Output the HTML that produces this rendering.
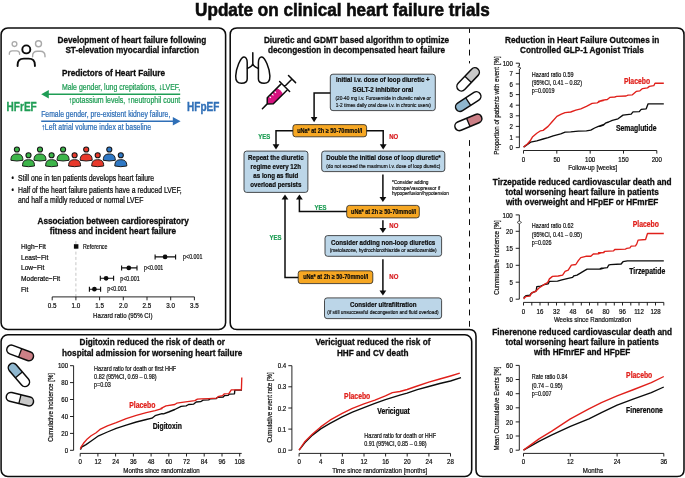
<!DOCTYPE html>
<html lang="en"><head><meta charset="utf-8"><title>Update on clinical heart failure trials</title>
<style>html,body{margin:0;padding:0;background:#fff}svg{display:block}text{font-family:"Liberation Sans", sans-serif}</style></head><body>
<svg width="685" height="478" viewBox="0 0 685 478" fill="#0c0c0c">
<rect width="685" height="478" fill="#fff"/>
<rect x="1.1" y="27.9" width="224.5" height="301.6" rx="6.8" fill="#fff" stroke="#0c0c0c" stroke-width="1.55"/>
<rect x="1.1" y="334.7" width="470.6" height="141.8" rx="6.8" fill="#fff" stroke="#0c0c0c" stroke-width="1.55"/>
<path d="M237.0 27.9 H677.2 Q684.0 27.9 684.0 34.7 V469.7 Q684.0 476.5 677.2 476.5 H482.8 Q476.0 476.5 476.0 469.7 V336.3 Q476.0 329.5 469.2 329.5 H237.0 Q230.2 329.5 230.2 322.7 V34.7 Q230.2 27.9 237.0 27.9 Z" fill="#fff" stroke="#0c0c0c" stroke-width="1.55"/>
<path d="M469.5 28.6 V32.9 M469.5 38.4 V44.2 M469.5 49.7 V55.5 M469.5 61.0 V63.4 M469.5 140.1 V145.9 M469.5 151.4 V157.2 M469.5 162.7 V168.5 M469.5 174.0 V179.8 M469.5 185.3 V191.1 M469.5 196.6 V202.4 M469.5 207.9 V213.7 M469.5 219.2 V225.0 M469.5 230.5 V236.3 M469.5 241.8 V247.6 M469.5 253.1 V258.9 M469.5 264.4 V270.2 M469.5 275.7 V281.5 M469.5 287.0 V292.8 M469.5 298.3 V304.1 M469.5 309.6 V315.4 M469.5 320.9 V326.7" fill="none" stroke="#0c0c0c" stroke-width="1"/>
<text x="195.10" y="15.80" font-size="18.64" font-weight="700" stroke="#0c0c0c" stroke-width="0.60" textLength="294.60" lengthAdjust="spacingAndGlyphs">Update on clinical heart failure trials</text>
<circle cx="14.5" cy="44.1" r="2.4" fill="none" stroke="#a9a9a9" stroke-width="1.3"/>
<path d="M9.3 54.3 V53.8 Q9.3 50.9 12.2 50.9 H16.7 Q19.6 50.9 19.6 53.8 V54.3" fill="none" stroke="#a9a9a9" stroke-width="1.3" stroke-linecap="round"/>
<circle cx="38.5" cy="43.8" r="3.0" fill="none" stroke="#a9a9a9" stroke-width="1.4"/>
<path d="M32.6 56.8 V56.0 Q32.6 51.2 37.4 51.2 H40.2 Q45.0 51.2 45.0 56.0 V56.8" fill="none" stroke="#a9a9a9" stroke-width="1.4" stroke-linecap="round"/>
<circle cx="26.3" cy="49.4" r="4.0" fill="none" stroke="#0c0c0c" stroke-width="1.9"/>
<path d="M17.6 66.0 V64.9 Q17.6 58.6 23.9 58.6 H28.6 Q34.9 58.6 34.9 64.9 V66.0" fill="none" stroke="#0c0c0c" stroke-width="1.9" stroke-linecap="round"/>
<text x="57.50" y="42.90" font-size="8.46" font-weight="700" stroke="#0c0c0c" stroke-width="0.29" textLength="148.80" lengthAdjust="spacingAndGlyphs">Development of heart failure following</text>
<text x="65.40" y="52.80" font-size="8.46" font-weight="700" stroke="#0c0c0c" stroke-width="0.29" textLength="133.60" lengthAdjust="spacingAndGlyphs">ST-elevation myocardial infarction</text>
<text x="62.00" y="76.40" font-size="8.46" font-weight="700" stroke="#0c0c0c" stroke-width="0.29" textLength="103.11" lengthAdjust="spacingAndGlyphs">Predictors of Heart Failure</text>
<text x="61.90" y="89.70" font-size="8.27" fill="#1f9d55" stroke="#1f9d55" stroke-width="0.24" textLength="118.40" lengthAdjust="spacingAndGlyphs">Male gender, lung crepitations, <tspan font-weight="700">↓</tspan>LVEF,</text>
<text x="68.40" y="102.80" font-size="8.27" fill="#1f9d55" stroke="#1f9d55" stroke-width="0.24" textLength="111.90" lengthAdjust="spacingAndGlyphs"><tspan font-weight="700">↑</tspan>potassium levels, <tspan font-weight="700">↑</tspan>neutrophil count</text>
<line x1="46" y1="94.2" x2="180.2" y2="94.2" stroke="#1f9d55" stroke-width="1.6"/>
<path d="M41.2 94.2 L48.8 90 L48.8 98.4 Z" fill="#1f9d55"/>
<text x="6.60" y="110.80" font-size="12.66" font-weight="700" fill="#1f9d55" stroke="#1f9d55" stroke-width="0.35" textLength="30.15" lengthAdjust="spacingAndGlyphs">HFrEF</text>
<text x="187.00" y="110.80" font-size="12.66" font-weight="700" fill="#2f6fb7" stroke="#2f6fb7" stroke-width="0.35" textLength="32.38" lengthAdjust="spacingAndGlyphs">HFpEF</text>
<text x="41.20" y="117.10" font-size="8.27" fill="#2f6fb7" stroke="#2f6fb7" stroke-width="0.24" textLength="129.10" lengthAdjust="spacingAndGlyphs">Female gender, pre-existent kidney failure,</text>
<line x1="41.2" y1="121.2" x2="175" y2="121.2" stroke="#2f6fb7" stroke-width="1.6"/>
<path d="M180.6 121.2 L172.8 117 L172.8 125.4 Z" fill="#2f6fb7"/>
<text x="41.40" y="129.70" font-size="8.27" fill="#2f6fb7" stroke="#2f6fb7" stroke-width="0.24" textLength="109.80" lengthAdjust="spacingAndGlyphs"><tspan font-weight="700">↑</tspan>Left atrial volume index at baseline</text>
<path d="M10.9 160.3 C10.9 155.2 13.3 154.0 16.9 154.0 C20.6 154.0 22.9 155.2 22.9 160.3 Q16.9 161.7 10.9 160.3 Z" fill="#3db54a" stroke="#151515" stroke-width="0.95" stroke-linejoin="round"/>
<circle cx="16.9" cy="149.5" r="2.55" fill="#3db54a" stroke="#151515" stroke-width="1.05"/>
<path d="M34.0 160.3 C34.0 155.2 36.4 154.0 40.0 154.0 C43.6 154.0 46.0 155.2 46.0 160.3 Q40.0 161.7 34.0 160.3 Z" fill="#3db54a" stroke="#151515" stroke-width="0.95" stroke-linejoin="round"/>
<circle cx="40.0" cy="149.5" r="2.55" fill="#3db54a" stroke="#151515" stroke-width="1.05"/>
<path d="M57.1 160.3 C57.1 155.2 59.5 154.0 63.1 154.0 C66.7 154.0 69.1 155.2 69.1 160.3 Q63.1 161.7 57.1 160.3 Z" fill="#3db54a" stroke="#151515" stroke-width="0.95" stroke-linejoin="round"/>
<circle cx="63.1" cy="149.5" r="2.55" fill="#3db54a" stroke="#151515" stroke-width="1.05"/>
<path d="M80.2 160.3 C80.2 155.2 82.6 154.0 86.2 154.0 C89.8 154.0 92.2 155.2 92.2 160.3 Q86.2 161.7 80.2 160.3 Z" fill="#e8392b" stroke="#151515" stroke-width="0.95" stroke-linejoin="round"/>
<circle cx="86.2" cy="149.5" r="2.55" fill="#e8392b" stroke="#151515" stroke-width="1.05"/>
<path d="M103.3 160.3 C103.3 155.2 105.7 154.0 109.3 154.0 C112.9 154.0 115.3 155.2 115.3 160.3 Q109.3 161.7 103.3 160.3 Z" fill="#2f78c4" stroke="#151515" stroke-width="0.95" stroke-linejoin="round"/>
<circle cx="109.3" cy="149.5" r="2.55" fill="#2f78c4" stroke="#151515" stroke-width="1.05"/>
<path d="M22.5 166.0 C22.5 160.9 24.9 159.7 28.5 159.7 C32.1 159.7 34.5 160.9 34.5 166.0 Q28.5 167.4 22.5 166.0 Z" fill="#3db54a" stroke="#151515" stroke-width="0.95" stroke-linejoin="round"/>
<circle cx="28.5" cy="155.2" r="2.55" fill="#3db54a" stroke="#151515" stroke-width="1.05"/>
<path d="M45.6 166.0 C45.6 160.9 48.0 159.7 51.6 159.7 C55.2 159.7 57.6 160.9 57.6 166.0 Q51.6 167.4 45.6 166.0 Z" fill="#3db54a" stroke="#151515" stroke-width="0.95" stroke-linejoin="round"/>
<circle cx="51.6" cy="155.2" r="2.55" fill="#3db54a" stroke="#151515" stroke-width="1.05"/>
<path d="M68.6 166.0 C68.6 160.9 71.0 159.7 74.6 159.7 C78.2 159.7 80.6 160.9 80.6 166.0 Q74.6 167.4 68.6 166.0 Z" fill="#e8392b" stroke="#151515" stroke-width="0.95" stroke-linejoin="round"/>
<circle cx="74.6" cy="155.2" r="2.55" fill="#e8392b" stroke="#151515" stroke-width="1.05"/>
<path d="M91.7 166.0 C91.7 160.9 94.1 159.7 97.7 159.7 C101.3 159.7 103.7 160.9 103.7 166.0 Q97.7 167.4 91.7 166.0 Z" fill="#e8392b" stroke="#151515" stroke-width="0.95" stroke-linejoin="round"/>
<circle cx="97.7" cy="155.2" r="2.55" fill="#e8392b" stroke="#151515" stroke-width="1.05"/>
<path d="M114.8 166.0 C114.8 160.9 117.2 159.7 120.8 159.7 C124.4 159.7 126.8 160.9 126.8 166.0 Q120.8 167.4 114.8 166.0 Z" fill="#2f78c4" stroke="#151515" stroke-width="0.95" stroke-linejoin="round"/>
<circle cx="120.8" cy="155.2" r="2.55" fill="#2f78c4" stroke="#151515" stroke-width="1.05"/>
<text x="11.40" y="181.40" font-size="8.21" stroke="#0c0c0c" stroke-width="0.24" textLength="2.39" lengthAdjust="spacingAndGlyphs">•</text>
<text x="18.00" y="181.40" font-size="8.21" stroke="#0c0c0c" stroke-width="0.24" textLength="136.13" lengthAdjust="spacingAndGlyphs">Still one in ten patients develops heart failure</text>
<text x="11.40" y="193.30" font-size="8.21" stroke="#0c0c0c" stroke-width="0.24" textLength="2.39" lengthAdjust="spacingAndGlyphs">•</text>
<text x="18.00" y="193.30" font-size="8.21" stroke="#0c0c0c" stroke-width="0.24" textLength="163.76" lengthAdjust="spacingAndGlyphs">Half of the heart failure patients have a reduced LVEF,</text>
<text x="18.00" y="203.20" font-size="8.21" stroke="#0c0c0c" stroke-width="0.24" textLength="125.34" lengthAdjust="spacingAndGlyphs">and half a mildly reduced or normal LVEF</text>
<text x="37.55" y="224.20" font-size="8.45" font-weight="700" stroke="#0c0c0c" stroke-width="0.29" textLength="151.29" lengthAdjust="spacingAndGlyphs">Association between cardiorespiratory</text>
<text x="49.79" y="234.30" font-size="8.45" font-weight="700" stroke="#0c0c0c" stroke-width="0.29" textLength="126.22" lengthAdjust="spacingAndGlyphs">fitness and incident heart failure</text>
<text x="21.00" y="248.90" font-size="7.91" stroke="#0c0c0c" stroke-width="0.23" textLength="24.72" lengthAdjust="spacingAndGlyphs">High−Fit</text>
<text x="21.00" y="259.60" font-size="7.91" stroke="#0c0c0c" stroke-width="0.23" textLength="27.29" lengthAdjust="spacingAndGlyphs">Least−Fit</text>
<text x="21.00" y="270.40" font-size="7.91" stroke="#0c0c0c" stroke-width="0.23" textLength="23.26" lengthAdjust="spacingAndGlyphs">Low−Fit</text>
<text x="21.00" y="281.30" font-size="7.91" stroke="#0c0c0c" stroke-width="0.23" textLength="39.01" lengthAdjust="spacingAndGlyphs">Moderate−Fit</text>
<text x="21.00" y="291.80" font-size="7.91" stroke="#0c0c0c" stroke-width="0.23" textLength="7.32" lengthAdjust="spacingAndGlyphs">Fit</text>
<line x1="75.9" y1="241" x2="75.9" y2="296.5" stroke="#c6c6c6" stroke-width="1" stroke-dasharray="3 2.3"/>
<rect x="73.9" y="244.2" width="4.5" height="4.5" fill="#0c0c0c"/>
<text x="83.00" y="249.00" font-size="6.36" stroke="#0c0c0c" stroke-width="0.19" textLength="24.45" lengthAdjust="spacingAndGlyphs">Reference</text>
<path d="M155.1 256.9 H175.6 M155.1 254.4 V259.4 M175.6 254.4 V259.4" fill="none" stroke="#0c0c0c" stroke-width="1.1"/>
<circle cx="165.1" cy="256.9" r="2.35" fill="#0c0c0c"/>
<text x="183.10" y="259.10" font-size="6.36" stroke="#0c0c0c" stroke-width="0.19" textLength="19.31" lengthAdjust="spacingAndGlyphs">p&lt;0.001</text>
<path d="M121.6 267.9 H137.0 M121.6 265.4 V270.4 M137.0 265.4 V270.4" fill="none" stroke="#0c0c0c" stroke-width="1.1"/>
<circle cx="128.8" cy="267.9" r="2.35" fill="#0c0c0c"/>
<text x="144.00" y="270.10" font-size="6.36" stroke="#0c0c0c" stroke-width="0.19" textLength="19.31" lengthAdjust="spacingAndGlyphs">p&lt;0.001</text>
<path d="M100.3 278.3 H113.6 M100.3 275.8 V280.8 M113.6 275.8 V280.8" fill="none" stroke="#0c0c0c" stroke-width="1.1"/>
<circle cx="106.1" cy="278.3" r="2.35" fill="#0c0c0c"/>
<text x="120.30" y="280.50" font-size="6.36" stroke="#0c0c0c" stroke-width="0.19" textLength="19.31" lengthAdjust="spacingAndGlyphs">p&lt;0.001</text>
<path d="M89.4 289.2 H100.6 M89.4 286.7 V291.7 M100.6 286.7 V291.7" fill="none" stroke="#0c0c0c" stroke-width="1.1"/>
<circle cx="94.4" cy="289.2" r="2.35" fill="#0c0c0c"/>
<text x="107.30" y="291.40" font-size="6.36" stroke="#0c0c0c" stroke-width="0.19" textLength="19.31" lengthAdjust="spacingAndGlyphs">p&lt;0.001</text>
<path d="M52.2 296.9 H194.4 M52.2 296.9 V300.3 M75.9 296.9 V300.3 M99.6 296.9 V300.3 M123.3 296.9 V300.3 M147.0 296.9 V300.3 M170.7 296.9 V300.3 M194.4 296.9 V300.3" fill="none" stroke="#0c0c0c" stroke-width="0.9"/>
<text x="47.82" y="308.10" font-size="7.56" stroke="#0c0c0c" stroke-width="0.22" textLength="8.76" lengthAdjust="spacingAndGlyphs">0.5</text>
<text x="71.52" y="308.10" font-size="7.56" stroke="#0c0c0c" stroke-width="0.22" textLength="8.76" lengthAdjust="spacingAndGlyphs">1.0</text>
<text x="95.22" y="308.10" font-size="7.56" stroke="#0c0c0c" stroke-width="0.22" textLength="8.76" lengthAdjust="spacingAndGlyphs">1.5</text>
<text x="118.92" y="308.10" font-size="7.56" stroke="#0c0c0c" stroke-width="0.22" textLength="8.76" lengthAdjust="spacingAndGlyphs">2.0</text>
<text x="142.62" y="308.10" font-size="7.56" stroke="#0c0c0c" stroke-width="0.22" textLength="8.76" lengthAdjust="spacingAndGlyphs">2.5</text>
<text x="166.32" y="308.10" font-size="7.56" stroke="#0c0c0c" stroke-width="0.22" textLength="8.76" lengthAdjust="spacingAndGlyphs">3.0</text>
<text x="190.02" y="308.10" font-size="7.56" stroke="#0c0c0c" stroke-width="0.22" textLength="8.76" lengthAdjust="spacingAndGlyphs">3.5</text>
<text x="93.11" y="318.10" font-size="7.37" stroke="#0c0c0c" stroke-width="0.21" textLength="59.37" lengthAdjust="spacingAndGlyphs">Hazard ratio (95% CI)</text>
<text x="263.90" y="42.90" font-size="8.46" font-weight="700" stroke="#0c0c0c" stroke-width="0.29" textLength="185.20" lengthAdjust="spacingAndGlyphs">Diuretic and GDMT based algorithm to optimize</text>
<text x="267.99" y="52.90" font-size="8.46" font-weight="700" stroke="#0c0c0c" stroke-width="0.29" textLength="177.01" lengthAdjust="spacingAndGlyphs">decongestion in decompensated heart failure</text>
<path d="M243.8 57.0 C240.5 57.5 236.0 68 235.7 76 C235.5 81.5 238 83.2 241.5 83.2 C245 83.2 247.2 82.2 247.2 79 V62.5 C247.2 59 245.8 56.8 243.8 57.0 Z" fill="none" stroke="#0c0c0c" stroke-width="1.5"/>
<path d="M261.8 57.0 C265.1 57.5 269.6 68 269.9 76 C270.1 81.5 267.6 83.2 264.1 83.2 C260.6 83.2 258.4 82.2 258.4 79 V62.5 C258.4 59 259.8 56.8 261.8 57.0 Z" fill="none" stroke="#0c0c0c" stroke-width="1.5"/>
<path d="M252.8 52.8 V63.5 M252.8 63.5 C252.6 66.5 250 66.8 247.6 68.4 M252.8 63.5 C253 66.5 255.6 66.8 258 68.4" fill="none" stroke="#0c0c0c" stroke-width="1.5" stroke-linecap="round"/>
<g transform="translate(262.4 108.7) rotate(-45)" stroke-linecap="round" stroke-linejoin="round">
<path d="M6.8 0 L11.2 -4.3 H30.1 V4.3 H11.2 Z" fill="#fff" stroke="none"/>
<path d="M6.8 0 L11.2 -4.3 H24.6 Q26.8 0 24.6 4.3 H11.2 Z" fill="#d6127f" stroke="none"/>
<path d="M13.6 -4.3 V-1.6 M17.2 -4.3 V-1.6 M20.8 -4.3 V-1.6" stroke="#fff" stroke-width="1.1" fill="none" stroke-linecap="butt"/>
<path d="M0 0 H6.8 M6.8 0 L11.2 -4.3 H30.1 M6.8 0 L11.2 4.3 H30.1 M31.4 -7.1 V7.1 M31.4 0 H41.9 M41.9 -5 V5" fill="none" stroke="#0c0c0c" stroke-width="1.5"/>
</g>
<g transform="translate(468.1 79.4) rotate(-46.5)">
<rect x="-14.2" y="-4.5" width="28.5" height="9.0" rx="4.5" fill="#fff"/>
<path d="M0 -4.5 H9.8 A4.5 4.5 0 0 1 9.8 4.5 H0 Z" fill="#c9c9c9"/>
<rect x="-14.2" y="-4.5" width="28.5" height="9.0" rx="4.5" fill="none" stroke="#0c0c0c" stroke-width="1.5"/>
<line x1="0" y1="-4.5" x2="0" y2="4.5" stroke="#0c0c0c" stroke-width="1.3"/>
</g>
<g transform="translate(468.2 101.6) rotate(-33.0)">
<rect x="-14.2" y="-4.5" width="28.5" height="9.0" rx="4.5" fill="#fff"/>
<path d="M0 -4.5 H-9.8 A4.5 4.5 0 0 0 -9.8 4.5 H0 Z" fill="#8fb7cf"/>
<rect x="-14.2" y="-4.5" width="28.5" height="9.0" rx="4.5" fill="none" stroke="#0c0c0c" stroke-width="1.5"/>
<line x1="0" y1="-4.5" x2="0" y2="4.5" stroke="#0c0c0c" stroke-width="1.3"/>
</g>
<g transform="translate(468.3 122.4) rotate(-22.7)">
<rect x="-14.2" y="-4.5" width="28.5" height="9.0" rx="4.5" fill="#fff"/>
<path d="M0 -4.5 H9.8 A4.5 4.5 0 0 1 9.8 4.5 H0 Z" fill="#cc7f86"/>
<rect x="-14.2" y="-4.5" width="28.5" height="9.0" rx="4.5" fill="none" stroke="#0c0c0c" stroke-width="1.5"/>
<line x1="0" y1="-4.5" x2="0" y2="4.5" stroke="#0c0c0c" stroke-width="1.3"/>
</g>
<rect x="330.3" y="74.2" width="105.0" height="36.4" rx="2.6" fill="#bcd6e8" stroke="#222" stroke-width="0.8"/>
<text x="336.08" y="82.30" font-size="7.40" font-weight="700" stroke="#0c0c0c" stroke-width="0.22" textLength="93.65" lengthAdjust="spacingAndGlyphs">Initial i.v. dose of loop diuretic +</text>
<text x="352.62" y="91.80" font-size="7.40" font-weight="700" stroke="#0c0c0c" stroke-width="0.22" textLength="60.56" lengthAdjust="spacingAndGlyphs">SGLT-2 inhibitor oral</text>
<text x="335.52" y="99.50" font-size="5.72" stroke="#0c0c0c" stroke-width="0.17" textLength="95.35" lengthAdjust="spacingAndGlyphs">(20-40 mg i.v. Furosemide in diuretic naive or</text>
<text x="335.86" y="106.50" font-size="5.72" stroke="#0c0c0c" stroke-width="0.17" textLength="95.09" lengthAdjust="spacingAndGlyphs">1-2 times daily oral dose i.v. in chronic users)</text>
<path d="M330.3 93 H314.1 V118" fill="none" stroke="#0c0c0c" stroke-width="1.5"/>
<path d="M314.1 122.2 L310.8 117 L317.4 117 Z" fill="#0c0c0c"/>
<rect x="292.9" y="124.6" width="73.7" height="12.2" rx="2.6" fill="#f6a723" stroke="#222" stroke-width="0.8"/>
<text x="297.14" y="133.00" font-size="6.64" font-weight="700" stroke="#0c0c0c" stroke-width="0.19" textLength="65.12" lengthAdjust="spacingAndGlyphs">uNa* at 2h ≥ 50-70mmol/l</text>
<path d="M292.9 130.7 H276 V146" fill="none" stroke="#0c0c0c" stroke-width="1.5"/>
<path d="M276 149.4 L272.6 144.3 L279.4 144.3 Z" fill="#0c0c0c"/>
<path d="M366.6 130.7 H383.2 V146" fill="none" stroke="#0c0c0c" stroke-width="1.5"/>
<path d="M383.2 149.4 L379.8 144.3 L386.6 144.3 Z" fill="#0c0c0c"/>
<text x="258.20" y="139.00" font-size="7.20" font-weight="700" fill="#1f9d55" stroke="#1f9d55" stroke-width="0.21" textLength="12.01" lengthAdjust="spacingAndGlyphs">YES</text>
<text x="389.20" y="139.00" font-size="7.20" font-weight="700" fill="#d7191c" stroke="#d7191c" stroke-width="0.21" textLength="9.00" lengthAdjust="spacingAndGlyphs">NO</text>
<rect x="244.0" y="151.1" width="63.9" height="41.3" rx="2.6" fill="#bcd6e8" stroke="#222" stroke-width="0.8"/>
<text x="248.03" y="160.20" font-size="7.40" font-weight="700" stroke="#0c0c0c" stroke-width="0.22" textLength="55.54" lengthAdjust="spacingAndGlyphs">Repeat the diuretic</text>
<text x="250.59" y="169.20" font-size="7.40" font-weight="700" stroke="#0c0c0c" stroke-width="0.22" textLength="50.42" lengthAdjust="spacingAndGlyphs">regime every 12h</text>
<text x="253.34" y="178.20" font-size="7.40" font-weight="700" stroke="#0c0c0c" stroke-width="0.22" textLength="44.91" lengthAdjust="spacingAndGlyphs">as long as fluid</text>
<text x="250.25" y="187.20" font-size="7.40" font-weight="700" stroke="#0c0c0c" stroke-width="0.22" textLength="51.10" lengthAdjust="spacingAndGlyphs">overload persists</text>
<rect x="321.7" y="151.1" width="123.1" height="20.5" rx="2.6" fill="#bcd6e8" stroke="#222" stroke-width="0.8"/>
<text x="326.25" y="160.10" font-size="7.40" font-weight="700" stroke="#0c0c0c" stroke-width="0.22" textLength="114.49" lengthAdjust="spacingAndGlyphs">Double the initial dose of loop diuretic*</text>
<text x="326.21" y="167.70" font-size="5.72" stroke="#0c0c0c" stroke-width="0.17" textLength="114.18" lengthAdjust="spacingAndGlyphs">(do not exceed the maximum i.v. dose of loop diuretic)</text>
<path d="M382.9 174.4 V198.0" fill="none" stroke="#0c0c0c" stroke-width="1.5"/>
<path d="M382.9 202.0 L379.5 197.0 L386.3 197.0 Z" fill="#0c0c0c"/>
<text x="391.90" y="184.20" font-size="5.72" stroke="#0c0c0c" stroke-width="0.17" textLength="36.60" lengthAdjust="spacingAndGlyphs">*Consider adding</text>
<text x="391.90" y="189.80" font-size="5.72" stroke="#0c0c0c" stroke-width="0.17" textLength="48.26" lengthAdjust="spacingAndGlyphs">inotrope/vasopressor if</text>
<text x="391.90" y="195.40" font-size="5.72" stroke="#0c0c0c" stroke-width="0.17" textLength="57.02" lengthAdjust="spacingAndGlyphs">hypoperfusion/hypotension</text>
<rect x="346.7" y="205.4" width="72.6" height="12.5" rx="2.6" fill="#f6a723" stroke="#222" stroke-width="0.8"/>
<text x="351.04" y="213.80" font-size="6.64" font-weight="700" stroke="#0c0c0c" stroke-width="0.19" textLength="65.12" lengthAdjust="spacingAndGlyphs">uNa* at 2h ≥ 50-70mmol/l</text>
<path d="M346.7 211.6 H299.4 V198.5" fill="none" stroke="#0c0c0c" stroke-width="1.5"/>
<path d="M299.4 194.4 L296.0 199.4 L302.8 199.4 Z" fill="#0c0c0c"/>
<text x="314.40" y="209.60" font-size="7.20" font-weight="700" fill="#1f9d55" stroke="#1f9d55" stroke-width="0.21" textLength="12.01" lengthAdjust="spacingAndGlyphs">YES</text>
<path d="M382.9 220.2 V228.9" fill="none" stroke="#0c0c0c" stroke-width="1.5"/>
<path d="M382.9 232.9 L379.5 227.9 L386.3 227.9 Z" fill="#0c0c0c"/>
<text x="389.30" y="228.00" font-size="7.20" font-weight="700" fill="#d7191c" stroke="#d7191c" stroke-width="0.21" textLength="9.00" lengthAdjust="spacingAndGlyphs">NO</text>
<rect x="325.0" y="235.6" width="116.6" height="20.7" rx="2.6" fill="#bcd6e8" stroke="#222" stroke-width="0.8"/>
<text x="331.10" y="245.20" font-size="7.40" font-weight="700" stroke="#0c0c0c" stroke-width="0.22" textLength="104.21" lengthAdjust="spacingAndGlyphs">Consider adding non-loop diuretics</text>
<text x="329.77" y="251.70" font-size="5.72" stroke="#0c0c0c" stroke-width="0.17" textLength="106.85" lengthAdjust="spacingAndGlyphs">(metolazone, hydrochlorothiazide or acetlozamide)</text>
<path d="M382.9 259.2 V291.6" fill="none" stroke="#0c0c0c" stroke-width="1.5"/>
<path d="M382.9 295.6 L379.5 290.6 L386.3 290.6 Z" fill="#0c0c0c"/>
<text x="389.30" y="278.90" font-size="7.20" font-weight="700" fill="#d7191c" stroke="#d7191c" stroke-width="0.21" textLength="9.00" lengthAdjust="spacingAndGlyphs">NO</text>
<rect x="298.2" y="270.8" width="74.6" height="12.8" rx="2.6" fill="#f6a723" stroke="#222" stroke-width="0.8"/>
<text x="303.14" y="279.20" font-size="6.64" font-weight="700" stroke="#0c0c0c" stroke-width="0.19" textLength="65.12" lengthAdjust="spacingAndGlyphs">uNa* at 2h ≥ 50-70mmol/l</text>
<path d="M298.2 277.4 H285 V198.5" fill="none" stroke="#0c0c0c" stroke-width="1.5"/>
<path d="M285.0 194.4 L281.6 199.4 L288.4 199.4 Z" fill="#0c0c0c"/>
<text x="269.50" y="240.00" font-size="7.20" font-weight="700" fill="#1f9d55" stroke="#1f9d55" stroke-width="0.21" textLength="12.01" lengthAdjust="spacingAndGlyphs">YES</text>
<rect x="324.5" y="297.9" width="117.1" height="20.7" rx="2.6" fill="#bcd6e8" stroke="#222" stroke-width="0.8"/>
<text x="350.05" y="307.40" font-size="7.40" font-weight="700" stroke="#0c0c0c" stroke-width="0.22" textLength="66.50" lengthAdjust="spacingAndGlyphs">Consider ultrafiltration</text>
<text x="327.32" y="314.00" font-size="5.72" stroke="#0c0c0c" stroke-width="0.17" textLength="111.36" lengthAdjust="spacingAndGlyphs">(if still unsuccessful decongestion and fluid overload)</text>
<text x="505.10" y="42.80" font-size="8.46" font-weight="700" stroke="#0c0c0c" stroke-width="0.29" textLength="154.19" lengthAdjust="spacingAndGlyphs">Reduction in Heart Failure Outcomes in</text>
<text x="520.12" y="52.90" font-size="8.46" font-weight="700" stroke="#0c0c0c" stroke-width="0.29" textLength="123.77" lengthAdjust="spacingAndGlyphs">Controlled GLP-1 Agonist Trials</text>
<path d="M519.4 63.2 V147.6 M515.8 63.2 H519.4 M515.8 73.4 H519.4 M515.8 84.0 H519.4 M515.8 94.6 H519.4 M515.8 105.2 H519.4 M515.8 115.8 H519.4 M515.8 126.4 H519.4 M515.8 137.0 H519.4 M515.8 147.6 H519.4 " fill="none" stroke="#0c0c0c" stroke-width="0.9"/>
<text x="502.66" y="65.85" font-size="7.37" stroke="#0c0c0c" stroke-width="0.21" textLength="10.24" lengthAdjust="spacingAndGlyphs">100</text>
<text x="509.49" y="76.05" font-size="7.37" stroke="#0c0c0c" stroke-width="0.21" textLength="3.41" lengthAdjust="spacingAndGlyphs">7</text>
<text x="509.49" y="86.65" font-size="7.37" stroke="#0c0c0c" stroke-width="0.21" textLength="3.41" lengthAdjust="spacingAndGlyphs">6</text>
<text x="509.49" y="97.25" font-size="7.37" stroke="#0c0c0c" stroke-width="0.21" textLength="3.41" lengthAdjust="spacingAndGlyphs">5</text>
<text x="509.49" y="107.85" font-size="7.37" stroke="#0c0c0c" stroke-width="0.21" textLength="3.41" lengthAdjust="spacingAndGlyphs">4</text>
<text x="509.49" y="118.45" font-size="7.37" stroke="#0c0c0c" stroke-width="0.21" textLength="3.41" lengthAdjust="spacingAndGlyphs">3</text>
<text x="509.49" y="129.05" font-size="7.37" stroke="#0c0c0c" stroke-width="0.21" textLength="3.41" lengthAdjust="spacingAndGlyphs">2</text>
<text x="509.49" y="139.65" font-size="7.37" stroke="#0c0c0c" stroke-width="0.21" textLength="3.41" lengthAdjust="spacingAndGlyphs">1</text>
<text x="509.49" y="150.25" font-size="7.37" stroke="#0c0c0c" stroke-width="0.21" textLength="3.41" lengthAdjust="spacingAndGlyphs">0</text>
<rect x="517.4" y="66.3" width="4" height="2.6" fill="#fff"/>
<path d="M519.4 65.4 L517.8 66.7 L521.0 68.1 L519.4 69.6" fill="none" stroke="#0c0c0c" stroke-width="0.7"/>
<text transform="translate(499.40 105.50) rotate(-90)" x="-49.15" y="0" font-size="7.37" stroke="#0c0c0c" stroke-width="0.21" textLength="98.30" lengthAdjust="spacingAndGlyphs">Proportion of patients with event [%]</text>
<path d="M523.5 150.5 H656.8 M523.5 150.5 V153.6 M556.8 150.5 V153.6 M590.2 150.5 V153.6 M623.5 150.5 V153.6 M656.8 150.5 V153.6 " fill="none" stroke="#0c0c0c" stroke-width="0.9"/>
<text x="521.79" y="162.00" font-size="7.37" stroke="#0c0c0c" stroke-width="0.21" textLength="3.41" lengthAdjust="spacingAndGlyphs">0</text>
<text x="553.42" y="162.00" font-size="7.37" stroke="#0c0c0c" stroke-width="0.21" textLength="6.83" lengthAdjust="spacingAndGlyphs">50</text>
<text x="585.04" y="162.00" font-size="7.37" stroke="#0c0c0c" stroke-width="0.21" textLength="10.24" lengthAdjust="spacingAndGlyphs">100</text>
<text x="618.37" y="162.00" font-size="7.37" stroke="#0c0c0c" stroke-width="0.21" textLength="10.24" lengthAdjust="spacingAndGlyphs">150</text>
<text x="651.70" y="162.00" font-size="7.37" stroke="#0c0c0c" stroke-width="0.21" textLength="10.24" lengthAdjust="spacingAndGlyphs">200</text>
<text x="568.13" y="170.20" font-size="7.37" stroke="#0c0c0c" stroke-width="0.21" textLength="49.14" lengthAdjust="spacingAndGlyphs">Follow-up [weeks]</text>
<text x="531.70" y="77.10" font-size="6.54" stroke="#0c0c0c" stroke-width="0.19" textLength="41.81" lengthAdjust="spacingAndGlyphs">Hazard ratio 0.59</text>
<text x="531.70" y="85.10" font-size="6.54" stroke="#0c0c0c" stroke-width="0.19" textLength="50.29" lengthAdjust="spacingAndGlyphs">(95%CI, 0.41 – 0.82)</text>
<text x="531.70" y="93.10" font-size="6.54" stroke="#0c0c0c" stroke-width="0.19" textLength="22.88" lengthAdjust="spacingAndGlyphs">p=0.0019</text>
<path d="M523.6 147.1 L530.6 142.1 L536.8 140.8 L543.1 139.0 L548.1 137.7 L553.2 135.8 L560.7 133.9 L565.1 132.1 L570.7 131.8 L578.3 131.2 L586.4 130.8 L590.8 130.2 L594.6 128.0 L598.4 126.4 L604.0 124.5 L599.8 126.4 L603.5 125.1 L605.4 123.2 L608.6 122.0 L612.3 120.3 L618.0 118.8 L623.0 115.1 L631.2 114.1 L633.0 111.9 L639.3 111.6 L641.2 109.4 L646.2 108.8 L648.1 103.8 L663.8 103.8" fill="none" stroke="#0c0c0c" stroke-width="1.35" stroke-linejoin="round"/>
<path d="M523.6 147.1 L527.4 144.0 L530.6 140.2 L532.4 137.1 L536.8 133.3 L540.6 130.8 L543.1 130.4 L548.1 126.4 L551.9 122.0 L556.9 116.4 L561.3 114.2 L565.1 112.6 L570.7 112.0 L575.8 110.1 L580.8 108.8 L586.4 106.3 L592.1 103.4 L597.1 102.9 L600.9 101.0 L604.0 100.3 L598.5 101.4 L602.9 100.2 L607.3 99.5 L609.8 97.4 L614.8 97.0 L616.7 96.4 L626.1 96.0 L628.0 95.2 L632.4 94.8 L636.2 91.4 L639.9 90.8 L642.5 88.6 L647.5 87.9 L649.4 86.4 L653.8 85.7 L655.0 83.2 L663.8 83.2" fill="none" stroke="#e0201b" stroke-width="1.35" stroke-linejoin="round"/>
<text x="623.90" y="83.90" font-size="8.18" font-weight="700" fill="#e0201b" stroke="#e0201b" stroke-width="0.24" textLength="26.16" lengthAdjust="spacingAndGlyphs">Placebo</text>
<text x="615.90" y="131.10" font-size="8.18" font-weight="700" stroke="#0c0c0c" stroke-width="0.24" textLength="40.55" lengthAdjust="spacingAndGlyphs">Semaglutide</text>
<text x="492.85" y="184.90" font-size="8.46" font-weight="700" stroke="#0c0c0c" stroke-width="0.29" textLength="178.71" lengthAdjust="spacingAndGlyphs">Tirzepatide reduced cardiovascular death and</text>
<text x="505.46" y="194.90" font-size="8.46" font-weight="700" stroke="#0c0c0c" stroke-width="0.29" textLength="153.28" lengthAdjust="spacingAndGlyphs">total worsening heart failure in patients</text>
<text x="505.93" y="204.80" font-size="8.46" font-weight="700" stroke="#0c0c0c" stroke-width="0.29" textLength="152.35" lengthAdjust="spacingAndGlyphs">with overweight and HFpEF or HFmrEF</text>
<path d="M519.3 214.9 V299.2 M515.7 214.9 H519.3 M515.7 231.3 H519.3 M515.7 248.3 H519.3 M515.7 265.3 H519.3 M515.7 282.2 H519.3 M515.7 299.2 H519.3 " fill="none" stroke="#0c0c0c" stroke-width="0.9"/>
<text x="502.56" y="217.55" font-size="7.37" stroke="#0c0c0c" stroke-width="0.21" textLength="10.24" lengthAdjust="spacingAndGlyphs">100</text>
<text x="505.97" y="233.97" font-size="7.37" stroke="#0c0c0c" stroke-width="0.21" textLength="6.83" lengthAdjust="spacingAndGlyphs">20</text>
<text x="505.97" y="250.94" font-size="7.37" stroke="#0c0c0c" stroke-width="0.21" textLength="6.83" lengthAdjust="spacingAndGlyphs">15</text>
<text x="505.97" y="267.91" font-size="7.37" stroke="#0c0c0c" stroke-width="0.21" textLength="6.83" lengthAdjust="spacingAndGlyphs">10</text>
<text x="509.39" y="284.88" font-size="7.37" stroke="#0c0c0c" stroke-width="0.21" textLength="3.41" lengthAdjust="spacingAndGlyphs">5</text>
<text x="509.39" y="301.85" font-size="7.37" stroke="#0c0c0c" stroke-width="0.21" textLength="3.41" lengthAdjust="spacingAndGlyphs">0</text>
<path d="M517.0 222.4 L519.3 220.9 L521.6 222.4 L519.3 223.9 Z" fill="#fff" stroke="#0c0c0c" stroke-width="0.6"/>
<text transform="translate(499.40 257.60) rotate(-90)" x="-37.20" y="0" font-size="7.37" stroke="#0c0c0c" stroke-width="0.21" textLength="74.39" lengthAdjust="spacingAndGlyphs">Cummulative Incidence [%]</text>
<path d="M523.5 302.4 H663.8 M523.5 302.4 V305.5 M531.8 302.4 V305.5 M540.0 302.4 V305.5 M548.3 302.4 V305.5 M556.5 302.4 V305.5 M564.8 302.4 V305.5 M573.0 302.4 V305.5 M581.3 302.4 V305.5 M589.5 302.4 V305.5 M597.8 302.4 V305.5 M606.0 302.4 V305.5 M614.3 302.4 V305.5 M622.5 302.4 V305.5 M630.8 302.4 V305.5 M639.0 302.4 V305.5 M647.3 302.4 V305.5 M655.5 302.4 V305.5 M663.8 302.4 V305.5 " fill="none" stroke="#0c0c0c" stroke-width="0.9"/>
<text x="521.79" y="313.50" font-size="7.37" stroke="#0c0c0c" stroke-width="0.21" textLength="3.41" lengthAdjust="spacingAndGlyphs">0</text>
<text x="536.59" y="313.50" font-size="7.37" stroke="#0c0c0c" stroke-width="0.21" textLength="6.83" lengthAdjust="spacingAndGlyphs">16</text>
<text x="553.10" y="313.50" font-size="7.37" stroke="#0c0c0c" stroke-width="0.21" textLength="6.83" lengthAdjust="spacingAndGlyphs">32</text>
<text x="569.60" y="313.50" font-size="7.37" stroke="#0c0c0c" stroke-width="0.21" textLength="6.83" lengthAdjust="spacingAndGlyphs">48</text>
<text x="586.11" y="313.50" font-size="7.37" stroke="#0c0c0c" stroke-width="0.21" textLength="6.83" lengthAdjust="spacingAndGlyphs">64</text>
<text x="602.62" y="313.50" font-size="7.37" stroke="#0c0c0c" stroke-width="0.21" textLength="6.83" lengthAdjust="spacingAndGlyphs">80</text>
<text x="619.12" y="313.50" font-size="7.37" stroke="#0c0c0c" stroke-width="0.21" textLength="6.83" lengthAdjust="spacingAndGlyphs">96</text>
<text x="634.15" y="313.50" font-size="7.37" stroke="#0c0c0c" stroke-width="0.21" textLength="9.79" lengthAdjust="spacingAndGlyphs">112</text>
<text x="650.43" y="313.50" font-size="7.37" stroke="#0c0c0c" stroke-width="0.21" textLength="10.24" lengthAdjust="spacingAndGlyphs">128</text>
<text x="553.92" y="321.60" font-size="7.37" stroke="#0c0c0c" stroke-width="0.21" textLength="77.36" lengthAdjust="spacingAndGlyphs">Weeks since Randomization</text>
<text x="531.70" y="228.40" font-size="6.54" stroke="#0c0c0c" stroke-width="0.19" textLength="41.81" lengthAdjust="spacingAndGlyphs">Hazard ratio 0.62</text>
<text x="531.70" y="236.50" font-size="6.54" stroke="#0c0c0c" stroke-width="0.19" textLength="50.29" lengthAdjust="spacingAndGlyphs">(95%CI, 0.41 – 0.95)</text>
<text x="531.70" y="244.60" font-size="6.54" stroke="#0c0c0c" stroke-width="0.19" textLength="19.85" lengthAdjust="spacingAndGlyphs">p=0.026</text>
<path d="M523.6 297.7 L526.2 295.6 L529.9 295.2 L531.2 293.3 L536.2 290.8 L536.8 286.7 L540.6 286.2 L544.4 284.5 L548.1 283.9 L549.4 281.4 L557.5 281.2 L561.9 279.9 L568.2 278.3 L572.6 277.4 L573.9 275.8 L577.0 275.1 L580.8 272.9 L584.5 270.7 L587.1 269.1 L599.6 269.1 L601.5 268.2 L604.0 268.2 L600.4 269.0 L601.6 268.4 L607.3 267.7 L608.6 265.2 L610.4 264.6 L621.1 264.0 L623.0 261.7 L627.4 260.8 L663.8 260.8" fill="none" stroke="#0c0c0c" stroke-width="1.35" stroke-linejoin="round"/>
<path d="M523.6 299.0 L525.5 296.7 L529.9 296.2 L531.8 292.7 L535.6 291.5 L538.7 288.3 L543.1 285.2 L547.5 282.7 L549.4 278.9 L552.5 276.4 L558.2 276.0 L562.6 275.1 L565.1 271.4 L568.2 270.1 L571.4 265.1 L575.8 264.5 L578.3 260.7 L580.8 257.6 L585.8 256.3 L590.8 256.3 L593.3 254.0 L598.4 253.8 L600.9 252.8 L604.0 252.5 L598.5 252.7 L603.5 252.4 L604.8 251.4 L613.6 250.8 L614.8 249.5 L625.5 249.1 L626.8 248.3 L629.9 247.9 L631.2 246.1 L635.5 245.8 L636.8 243.9 L638.1 240.1 L645.6 239.5 L647.5 233.5 L663.8 233.5" fill="none" stroke="#e0201b" stroke-width="1.35" stroke-linejoin="round"/>
<text x="632.70" y="227.30" font-size="8.18" font-weight="700" fill="#e0201b" stroke="#e0201b" stroke-width="0.24" textLength="26.16" lengthAdjust="spacingAndGlyphs">Placebo</text>
<text x="629.30" y="273.80" font-size="8.18" font-weight="700" stroke="#0c0c0c" stroke-width="0.24" textLength="35.88" lengthAdjust="spacingAndGlyphs">Tirzepatide</text>
<text x="492.32" y="335.40" font-size="8.46" font-weight="700" stroke="#0c0c0c" stroke-width="0.29" textLength="179.77" lengthAdjust="spacingAndGlyphs">Finerenone reduced cardiovascular death and</text>
<text x="505.46" y="345.40" font-size="8.46" font-weight="700" stroke="#0c0c0c" stroke-width="0.29" textLength="153.28" lengthAdjust="spacingAndGlyphs">total worsening heart failure in patients</text>
<text x="533.98" y="355.40" font-size="8.46" font-weight="700" stroke="#0c0c0c" stroke-width="0.29" textLength="96.24" lengthAdjust="spacingAndGlyphs">with HFmrEF and HFpEF</text>
<path d="M519.3 365.4 V450.2 M515.7 365.4 H519.3 M515.7 379.5 H519.3 M515.7 393.7 H519.3 M515.7 407.8 H519.3 M515.7 421.9 H519.3 M515.7 436.0 H519.3 M515.7 450.2 H519.3 " fill="none" stroke="#0c0c0c" stroke-width="0.9"/>
<text x="505.97" y="368.05" font-size="7.37" stroke="#0c0c0c" stroke-width="0.21" textLength="6.83" lengthAdjust="spacingAndGlyphs">60</text>
<text x="505.97" y="382.18" font-size="7.37" stroke="#0c0c0c" stroke-width="0.21" textLength="6.83" lengthAdjust="spacingAndGlyphs">50</text>
<text x="505.97" y="396.31" font-size="7.37" stroke="#0c0c0c" stroke-width="0.21" textLength="6.83" lengthAdjust="spacingAndGlyphs">40</text>
<text x="505.97" y="410.44" font-size="7.37" stroke="#0c0c0c" stroke-width="0.21" textLength="6.83" lengthAdjust="spacingAndGlyphs">30</text>
<text x="505.97" y="424.57" font-size="7.37" stroke="#0c0c0c" stroke-width="0.21" textLength="6.83" lengthAdjust="spacingAndGlyphs">20</text>
<text x="505.97" y="438.70" font-size="7.37" stroke="#0c0c0c" stroke-width="0.21" textLength="6.83" lengthAdjust="spacingAndGlyphs">10</text>
<text x="509.39" y="452.83" font-size="7.37" stroke="#0c0c0c" stroke-width="0.21" textLength="3.41" lengthAdjust="spacingAndGlyphs">0</text>
<text transform="translate(499.40 408.50) rotate(-90)" x="-41.97" y="0" font-size="7.37" stroke="#0c0c0c" stroke-width="0.21" textLength="83.95" lengthAdjust="spacingAndGlyphs">Mean Cummulative Events [%]</text>
<path d="M523.5 453.4 H663.8 M523.5 453.4 V456.5 M570.3 453.4 V456.5 M617.1 453.4 V456.5 M663.8 453.4 V456.5 " fill="none" stroke="#0c0c0c" stroke-width="0.9"/>
<text x="521.79" y="464.20" font-size="7.37" stroke="#0c0c0c" stroke-width="0.21" textLength="3.41" lengthAdjust="spacingAndGlyphs">0</text>
<text x="566.89" y="464.20" font-size="7.37" stroke="#0c0c0c" stroke-width="0.21" textLength="6.83" lengthAdjust="spacingAndGlyphs">12</text>
<text x="613.69" y="464.20" font-size="7.37" stroke="#0c0c0c" stroke-width="0.21" textLength="6.83" lengthAdjust="spacingAndGlyphs">24</text>
<text x="660.39" y="464.20" font-size="7.37" stroke="#0c0c0c" stroke-width="0.21" textLength="6.83" lengthAdjust="spacingAndGlyphs">36</text>
<text x="582.83" y="472.60" font-size="7.37" stroke="#0c0c0c" stroke-width="0.21" textLength="20.14" lengthAdjust="spacingAndGlyphs">Months</text>
<text x="531.70" y="379.40" font-size="6.54" stroke="#0c0c0c" stroke-width="0.19" textLength="35.75" lengthAdjust="spacingAndGlyphs">Rate ratio 0.84</text>
<text x="531.70" y="387.60" font-size="6.54" stroke="#0c0c0c" stroke-width="0.19" textLength="30.90" lengthAdjust="spacingAndGlyphs">(0.74 – 0.95)</text>
<text x="531.70" y="395.60" font-size="6.54" stroke="#0c0c0c" stroke-width="0.19" textLength="19.85" lengthAdjust="spacingAndGlyphs">p=0.007</text>
<path d="M523.5 450.1 L539.0 441.4 L551.4 435.1 L570.4 426.4 L588.9 418.9 L601.4 412.7 L617.1 405.2 L633.8 398.9 L651.3 392.7 L663.8 387.0" fill="none" stroke="#0c0c0c" stroke-width="1.35" stroke-linejoin="round"/>
<path d="M523.5 450.1 L539.0 438.9 L551.4 431.4 L570.4 418.9 L588.9 408.9 L601.4 402.7 L617.1 395.9 L633.8 389.5 L651.3 382.7 L663.8 376.5" fill="none" stroke="#e0201b" stroke-width="1.35" stroke-linejoin="round"/>
<text x="626.10" y="378.40" font-size="8.18" font-weight="700" fill="#e0201b" stroke="#e0201b" stroke-width="0.24" textLength="26.16" lengthAdjust="spacingAndGlyphs">Placebo</text>
<text x="626.10" y="412.80" font-size="8.18" font-weight="700" stroke="#0c0c0c" stroke-width="0.24" textLength="36.76" lengthAdjust="spacingAndGlyphs">Finerenone</text>
<g transform="translate(20.1 352.9) rotate(20.4)">
<rect x="-13.9" y="-4.5" width="27.9" height="9.0" rx="4.5" fill="#fff"/>
<path d="M0 -4.5 H9.4 A4.5 4.5 0 0 1 9.4 4.5 H0 Z" fill="#cc7f86"/>
<rect x="-13.9" y="-4.5" width="27.9" height="9.0" rx="4.5" fill="none" stroke="#0c0c0c" stroke-width="1.5"/>
<line x1="0" y1="-4.5" x2="0" y2="4.5" stroke="#0c0c0c" stroke-width="1.3"/>
</g>
<g transform="translate(18.9 374.9) rotate(49.4)">
<rect x="-13.9" y="-4.5" width="27.8" height="9.0" rx="4.5" fill="#fff"/>
<path d="M0 -4.5 H-9.4 A4.5 4.5 0 0 0 -9.4 4.5 H0 Z" fill="#8fb7cf"/>
<rect x="-13.9" y="-4.5" width="27.8" height="9.0" rx="4.5" fill="none" stroke="#0c0c0c" stroke-width="1.5"/>
<line x1="0" y1="-4.5" x2="0" y2="4.5" stroke="#0c0c0c" stroke-width="1.3"/>
</g>
<g transform="translate(19.9 399.2) rotate(13.7)">
<rect x="-13.9" y="-4.5" width="27.8" height="9.0" rx="4.5" fill="#fff"/>
<path d="M0 -4.5 H9.4 A4.5 4.5 0 0 1 9.4 4.5 H0 Z" fill="#c9c9c9"/>
<rect x="-13.9" y="-4.5" width="27.8" height="9.0" rx="4.5" fill="none" stroke="#0c0c0c" stroke-width="1.5"/>
<line x1="0" y1="-4.5" x2="0" y2="4.5" stroke="#0c0c0c" stroke-width="1.3"/>
</g>
<text x="79.54" y="345.30" font-size="8.46" font-weight="700" stroke="#0c0c0c" stroke-width="0.29" textLength="145.52" lengthAdjust="spacingAndGlyphs">Digitoxin reduced the risk of death or</text>
<text x="62.10" y="355.80" font-size="8.46" font-weight="700" stroke="#0c0c0c" stroke-width="0.29" textLength="180.20" lengthAdjust="spacingAndGlyphs">hospital admission for worsening heart failure</text>
<path d="M73.6 365.7 V450.3 M70.0 365.7 H73.6 M70.0 382.6 H73.6 M70.0 399.5 H73.6 M70.0 416.5 H73.6 M70.0 433.4 H73.6 M70.0 450.3 H73.6 " fill="none" stroke="#0c0c0c" stroke-width="0.9"/>
<text x="57.96" y="368.35" font-size="7.37" stroke="#0c0c0c" stroke-width="0.21" textLength="10.24" lengthAdjust="spacingAndGlyphs">100</text>
<text x="61.37" y="385.27" font-size="7.37" stroke="#0c0c0c" stroke-width="0.21" textLength="6.83" lengthAdjust="spacingAndGlyphs">80</text>
<text x="61.37" y="402.19" font-size="7.37" stroke="#0c0c0c" stroke-width="0.21" textLength="6.83" lengthAdjust="spacingAndGlyphs">60</text>
<text x="61.37" y="419.11" font-size="7.37" stroke="#0c0c0c" stroke-width="0.21" textLength="6.83" lengthAdjust="spacingAndGlyphs">40</text>
<text x="61.37" y="436.03" font-size="7.37" stroke="#0c0c0c" stroke-width="0.21" textLength="6.83" lengthAdjust="spacingAndGlyphs">20</text>
<text x="64.79" y="452.95" font-size="7.37" stroke="#0c0c0c" stroke-width="0.21" textLength="3.41" lengthAdjust="spacingAndGlyphs">0</text>
<text transform="translate(52.80 407.40) rotate(-90)" x="-34.47" y="0" font-size="7.37" stroke="#0c0c0c" stroke-width="0.21" textLength="68.94" lengthAdjust="spacingAndGlyphs">Cumulative incidence [%]</text>
<path d="M80.2 453.4 H241.7 M80.2 453.4 V456.5 M97.9 453.4 V456.5 M115.6 453.4 V456.5 M133.4 453.4 V456.5 M151.1 453.4 V456.5 M168.8 453.4 V456.5 M186.5 453.4 V456.5 M204.2 453.4 V456.5 M222.0 453.4 V456.5 M239.7 453.4 V456.5 " fill="none" stroke="#0c0c0c" stroke-width="0.9"/>
<text x="78.49" y="464.20" font-size="7.37" stroke="#0c0c0c" stroke-width="0.21" textLength="3.41" lengthAdjust="spacingAndGlyphs">0</text>
<text x="94.51" y="464.20" font-size="7.37" stroke="#0c0c0c" stroke-width="0.21" textLength="6.83" lengthAdjust="spacingAndGlyphs">12</text>
<text x="112.23" y="464.20" font-size="7.37" stroke="#0c0c0c" stroke-width="0.21" textLength="6.83" lengthAdjust="spacingAndGlyphs">24</text>
<text x="129.95" y="464.20" font-size="7.37" stroke="#0c0c0c" stroke-width="0.21" textLength="6.83" lengthAdjust="spacingAndGlyphs">36</text>
<text x="147.67" y="464.20" font-size="7.37" stroke="#0c0c0c" stroke-width="0.21" textLength="6.83" lengthAdjust="spacingAndGlyphs">48</text>
<text x="165.39" y="464.20" font-size="7.37" stroke="#0c0c0c" stroke-width="0.21" textLength="6.83" lengthAdjust="spacingAndGlyphs">60</text>
<text x="183.11" y="464.20" font-size="7.37" stroke="#0c0c0c" stroke-width="0.21" textLength="6.83" lengthAdjust="spacingAndGlyphs">72</text>
<text x="200.83" y="464.20" font-size="7.37" stroke="#0c0c0c" stroke-width="0.21" textLength="6.83" lengthAdjust="spacingAndGlyphs">84</text>
<text x="218.55" y="464.20" font-size="7.37" stroke="#0c0c0c" stroke-width="0.21" textLength="6.83" lengthAdjust="spacingAndGlyphs">96</text>
<text x="234.56" y="464.20" font-size="7.37" stroke="#0c0c0c" stroke-width="0.21" textLength="10.24" lengthAdjust="spacingAndGlyphs">108</text>
<text x="123.28" y="472.60" font-size="7.37" stroke="#0c0c0c" stroke-width="0.21" textLength="76.45" lengthAdjust="spacingAndGlyphs">Months since randomization</text>
<text x="94.10" y="370.90" font-size="6.54" stroke="#0c0c0c" stroke-width="0.19" textLength="82.08" lengthAdjust="spacingAndGlyphs">Hazard ratio for death or first HHF</text>
<text x="94.10" y="378.90" font-size="6.54" stroke="#0c0c0c" stroke-width="0.19" textLength="62.41" lengthAdjust="spacingAndGlyphs">0.82 (95%CI, 0.69 – 0.98)</text>
<text x="94.10" y="386.80" font-size="6.54" stroke="#0c0c0c" stroke-width="0.19" textLength="16.82" lengthAdjust="spacingAndGlyphs">p=0.03</text>
<path d="M80.4 449.6 L81.6 447.1 L86.0 444.6 L92.3 440.2 L98.6 435.8 L107.4 432.0 L116.2 428.3 L126.2 425.1 L136.3 422.0 L146.3 419.5 L152.0 418.2 L155.1 415.7 L162.0 413.6 L163.5 413.9 L168.6 412.0 L174.8 409.5 L181.1 406.4 L186.1 405.8 L188.6 404.5 L193.7 404.1 L196.2 402.0 L200.6 401.7 L203.1 400.1 L208.7 399.9 L210.0 398.9 L216.3 398.6 L217.5 397.3 L223.2 397.0 L224.4 395.7 L228.2 395.3 L229.4 394.1 L234.5 393.8 L234.8 390.1 L242.0 390.1" fill="none" stroke="#0c0c0c" stroke-width="1.35" stroke-linejoin="round"/>
<path d="M80.4 449.0 L81.0 447.1 L83.5 443.3 L87.3 438.9 L91.1 435.8 L96.1 432.7 L100.5 429.1 L107.4 425.8 L116.2 422.6 L126.2 418.6 L136.3 415.3 L146.3 412.6 L155.1 410.7 L162.0 408.6 L161.0 408.3 L166.0 405.8 L174.8 404.5 L176.7 403.2 L187.4 401.6 L194.9 400.7 L197.4 399.2 L201.2 398.9 L208.7 398.6 L216.3 398.2 L218.8 396.3 L222.5 395.7 L224.4 393.8 L228.8 393.6 L231.3 389.8 L241.4 389.8 L241.8 377.5" fill="none" stroke="#e0201b" stroke-width="1.35" stroke-linejoin="round"/>
<text x="129.20" y="407.70" font-size="8.18" font-weight="700" fill="#e0201b" stroke="#e0201b" stroke-width="0.24" textLength="26.16" lengthAdjust="spacingAndGlyphs">Placebo</text>
<text x="152.70" y="429.40" font-size="8.18" font-weight="700" stroke="#0c0c0c" stroke-width="0.24" textLength="29.17" lengthAdjust="spacingAndGlyphs">Digitoxin</text>
<text x="315.41" y="345.30" font-size="8.46" font-weight="700" stroke="#0c0c0c" stroke-width="0.29" textLength="114.98" lengthAdjust="spacingAndGlyphs">Vericiguat reduced the risk of</text>
<text x="336.89" y="355.80" font-size="8.46" font-weight="700" stroke="#0c0c0c" stroke-width="0.29" textLength="71.61" lengthAdjust="spacingAndGlyphs">HHF and CV death</text>
<path d="M291.9 365.7 V450.2 M288.3 365.7 H291.9 M288.3 386.8 H291.9 M288.3 408.0 H291.9 M288.3 429.1 H291.9 M288.3 450.2 H291.9 " fill="none" stroke="#0c0c0c" stroke-width="0.9"/>
<text x="277.76" y="368.35" font-size="7.37" stroke="#0c0c0c" stroke-width="0.21" textLength="8.54" lengthAdjust="spacingAndGlyphs">0.4</text>
<text x="277.76" y="389.48" font-size="7.37" stroke="#0c0c0c" stroke-width="0.21" textLength="8.54" lengthAdjust="spacingAndGlyphs">0.3</text>
<text x="277.76" y="410.61" font-size="7.37" stroke="#0c0c0c" stroke-width="0.21" textLength="8.54" lengthAdjust="spacingAndGlyphs">0.2</text>
<text x="277.76" y="431.74" font-size="7.37" stroke="#0c0c0c" stroke-width="0.21" textLength="8.54" lengthAdjust="spacingAndGlyphs">0.1</text>
<text x="277.76" y="452.87" font-size="7.37" stroke="#0c0c0c" stroke-width="0.21" textLength="8.54" lengthAdjust="spacingAndGlyphs">0.0</text>
<text transform="translate(271.60 407.40) rotate(-90)" x="-35.15" y="0" font-size="7.37" stroke="#0c0c0c" stroke-width="0.21" textLength="70.30" lengthAdjust="spacingAndGlyphs">Cumulative event rate [%]</text>
<path d="M299.1 453.4 H450.5 M299.1 453.4 V456.5 M320.7 453.4 V456.5 M342.4 453.4 V456.5 M364.0 453.4 V456.5 M385.6 453.4 V456.5 M407.2 453.4 V456.5 M428.9 453.4 V456.5 M450.5 453.4 V456.5 " fill="none" stroke="#0c0c0c" stroke-width="0.9"/>
<text x="297.39" y="464.20" font-size="7.37" stroke="#0c0c0c" stroke-width="0.21" textLength="3.41" lengthAdjust="spacingAndGlyphs">0</text>
<text x="319.02" y="464.20" font-size="7.37" stroke="#0c0c0c" stroke-width="0.21" textLength="3.41" lengthAdjust="spacingAndGlyphs">4</text>
<text x="340.65" y="464.20" font-size="7.37" stroke="#0c0c0c" stroke-width="0.21" textLength="3.41" lengthAdjust="spacingAndGlyphs">8</text>
<text x="360.58" y="464.20" font-size="7.37" stroke="#0c0c0c" stroke-width="0.21" textLength="6.83" lengthAdjust="spacingAndGlyphs">12</text>
<text x="382.21" y="464.20" font-size="7.37" stroke="#0c0c0c" stroke-width="0.21" textLength="6.83" lengthAdjust="spacingAndGlyphs">16</text>
<text x="403.84" y="464.20" font-size="7.37" stroke="#0c0c0c" stroke-width="0.21" textLength="6.83" lengthAdjust="spacingAndGlyphs">20</text>
<text x="425.47" y="464.20" font-size="7.37" stroke="#0c0c0c" stroke-width="0.21" textLength="6.83" lengthAdjust="spacingAndGlyphs">24</text>
<text x="447.10" y="464.20" font-size="7.37" stroke="#0c0c0c" stroke-width="0.21" textLength="6.83" lengthAdjust="spacingAndGlyphs">28</text>
<text x="332.21" y="472.60" font-size="7.37" stroke="#0c0c0c" stroke-width="0.21" textLength="94.98" lengthAdjust="spacingAndGlyphs">Time since randomization [months]</text>
<text x="364.20" y="438.10" font-size="6.54" stroke="#0c0c0c" stroke-width="0.19" textLength="71.79" lengthAdjust="spacingAndGlyphs">Hazard ratio for death or HHF</text>
<text x="364.20" y="446.40" font-size="6.54" stroke="#0c0c0c" stroke-width="0.19" textLength="62.41" lengthAdjust="spacingAndGlyphs">0.91 (95%CI, 0.85 – 0.98)</text>
<path d="M299.1 450.1 L305.0 442.6 L312.5 435.1 L320.7 428.9 L330.0 423.4 L342.2 416.9 L352.4 412.2 L363.9 407.7 L374.9 403.4 L385.4 399.7 L399.9 395.2 L407.1 393.2 L417.3 389.7 L428.8 386.5 L439.8 383.5 L450.5 381.0 L461.0 377.7" fill="none" stroke="#0c0c0c" stroke-width="1.35" stroke-linejoin="round"/>
<path d="M299.1 450.1 L305.0 441.4 L312.5 433.9 L320.7 426.9 L330.0 420.2 L342.2 413.4 L352.4 408.4 L363.9 403.9 L374.9 400.2 L385.4 395.9 L392.4 392.7 L399.9 391.5 L407.1 389.5 L417.3 386.0 L428.8 382.2 L439.8 379.0 L450.5 376.0 L459.8 373.2" fill="none" stroke="#e0201b" stroke-width="1.35" stroke-linejoin="round"/>
<text x="344.10" y="399.00" font-size="8.18" font-weight="700" fill="#e0201b" stroke="#e0201b" stroke-width="0.24" textLength="26.16" lengthAdjust="spacingAndGlyphs">Placebo</text>
<text x="377.30" y="413.80" font-size="8.18" font-weight="700" stroke="#0c0c0c" stroke-width="0.24" textLength="32.60" lengthAdjust="spacingAndGlyphs">Vericiguat</text>
</svg></body></html>
